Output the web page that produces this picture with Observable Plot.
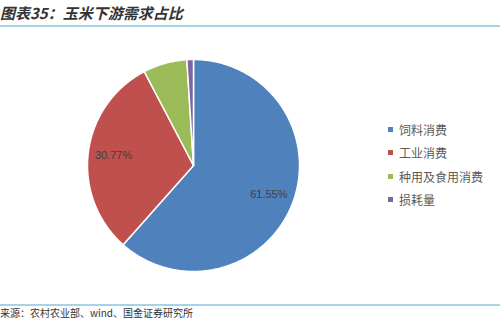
<!DOCTYPE html>
<html><head><meta charset="utf-8">
<script src="https://cdn.jsdelivr.net/npm/d3@7"></script>
<script src="https://cdn.jsdelivr.net/npm/@observablehq/plot@0.6"></script>
<style>
body{margin:0;background:#fff;width:500px;height:334px;overflow:hidden;position:relative;font-family:"Noto Sans CJK SC","Noto Sans",sans-serif;}
#title{height:25px;line-height:25px;border-bottom:2px solid #a6d3e6;font-size:15px;font-weight:bold;font-style:italic;color:#333;white-space:nowrap;}
#chart{height:277px;position:relative;}
#chart svg{display:block;}
#source{border-top:2px solid #a6d3e6;height:14px;line-height:14px;font-size:10px;color:#333;white-space:nowrap;}
#legend{position:absolute;left:388px;top:118px;font-size:12px;color:#595959;}
#legend .row{height:23.3px;line-height:23.3px;display:flex;align-items:center;white-space:nowrap;}
#legend .sw{width:5px;height:5px;margin-right:6px;flex:none;}
</style>
</head><body>
<div id="title">图表35：玉米下游需求占比</div>
<div id="chart"></div>
<div id="source">来源：农村农业部、wind、国金证券研究所</div>
<div id="legend"></div>
<script>
const cats = ["饲料消费", "工业消费", "种用及食用消费", "损耗量"];
const shares = [61.55, 30.77, 6.68, 1.00];
const labels = ["61.55%", "30.77%", "", ""];
const colors = ["#4f81bd", "#c0504d", "#9bbb59", "#8064a2"];

const arcs = d3.pie().sort(null).value(d => d)(shares);
const pts = [];
arcs.forEach((a, i) => {
  pts.push({cat: cats[i], x: 0, y: 0});
  const n = Math.max(2, Math.ceil((a.endAngle - a.startAngle) / 0.01));
  for (let k = 0; k <= n; k++) {
    const t = a.startAngle + (a.endAngle - a.startAngle) * k / n;
    pts.push({cat: cats[i], x: Math.sin(t), y: Math.cos(t)});
  }
});
const lab = arcs.map((a, i) => {
  const m = (a.startAngle + a.endAngle) / 2;
  return {text: labels[i], x: 0.76 * Math.sin(m), y: 0.76 * Math.cos(m)};
}).filter(d => d.text);

const plot = Plot.plot({
  width: 500, height: 277,
  margin: 0,
  x: {domain: [-1, 1], range: [87, 299], axis: null},
  y: {domain: [-1, 1], range: [244, 32], axis: null},
  color: {domain: cats, range: colors},
  style: {background: "white"},
  marks: [
    Plot.line(pts, {x: "x", y: "y", z: "cat", fill: "cat", stroke: "white", strokeWidth: 1.5, curve: "linear-closed"}),
    Plot.text(lab, {x: "x", y: "y", text: "text", fill: "#404040", fontSize: 11, fontFamily: "Liberation Sans, Arial, sans-serif"})
  ]
});
document.getElementById("chart").appendChild(plot);

const lg = d3.select("#legend");
cats.forEach((c, i) => {
  const r = lg.append("div").attr("class", "row");
  r.append("div").attr("class", "sw").style("background", plot.scale("color").apply(c));
  r.append("span").text(c);
});
</script>
</body></html>
